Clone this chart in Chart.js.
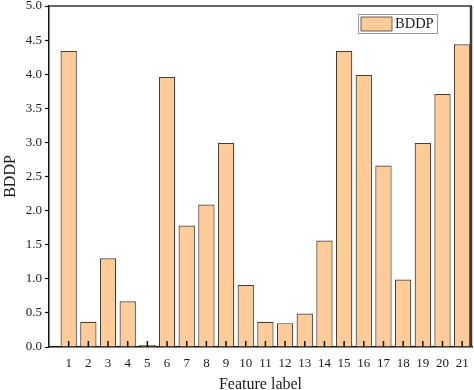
<!DOCTYPE html>
<html>
<head>
<meta charset="utf-8">
<script src="https://cdn.jsdelivr.net/npm/chart.js@4.4.1/dist/chart.umd.min.js"></script>
<style>
html,body{margin:0;padding:0;background:#fff;}
#wrap{width:474px;height:390px;position:relative;}
</style>
</head>
<body>
<div id="wrap"><canvas id="c" width="474" height="390"></canvas></div>
<script>
const categories = [1,2,3,4,5,6,7,8,9,10,11,12,13,14,15,16,17,18,19,20,21];
const bddpValues = [4.34,0.37,1.30,0.67,0.03,3.96,1.78,2.09,2.99,0.91,0.37,0.35,0.49,1.56,4.34,3.99,2.66,0.99,2.99,3.71,4.44];
const seriesName = 'BDDP';
const yTicks = [0,0.5,1.0,1.5,2.0,2.5,3.0,3.5,4.0,4.5,5.0];

const FILL = '#FFCC99';
const EDGE = '#4a3e33';
const TXT = '#1a1a1a';
const SERIF = '"Liberation Serif","DejaVu Serif",serif';

const framePlugin = {
  id: 'frame',
  afterDraw(chart) {
    const {ctx, chartArea: a, scales} = chart;
    ctx.save();
    ctx.strokeStyle = '#333';
    ctx.lineWidth = 1.5;
    ctx.beginPath();
    ctx.moveTo(a.left, a.top);
    ctx.lineTo(a.right, a.top);
    ctx.stroke();
    ctx.lineWidth = 2.5;
    ctx.strokeStyle = '#3a3a3a';
    ctx.beginPath();
    ctx.moveTo(a.right - 1, a.top);
    ctx.lineTo(a.right - 1, a.bottom);
    ctx.stroke();
    ctx.strokeStyle = '#111';
    ctx.lineWidth = 1.5;
    categories.forEach(v => {
      const x = scales.x.getPixelForValue(v);
      ctx.beginPath();
      ctx.moveTo(x, a.bottom);
      ctx.lineTo(x, a.bottom - 6);
      ctx.stroke();
    });
    const lx = 358, ly = 14, lw = 79, lh = 19;
    ctx.fillStyle = '#fff';
    ctx.fillRect(lx, ly, lw, lh);
    ctx.strokeStyle = '#9a9a9a';
    ctx.lineWidth = 1;
    ctx.strokeRect(lx + 0.5, ly + 0.5, lw, lh);
    ctx.fillStyle = FILL;
    ctx.fillRect(361, 17, 31, 14);
    ctx.strokeStyle = EDGE;
    ctx.lineWidth = 0.8;
    ctx.strokeRect(361, 17, 31, 14);
    ctx.fillStyle = TXT;
    ctx.font = '14.5px ' + SERIF;
    ctx.textBaseline = 'middle';
    ctx.textAlign = 'left';
    ctx.fillText(seriesName, 395, 24.5);
    ctx.restore();
  }
};

new Chart(document.getElementById('c'), {
  type: 'bar',
  data: {
    datasets: [{
      label: seriesName,
      data: categories.map((c, i) => ({x: c, y: bddpValues[i]})),
      backgroundColor: FILL,
      borderColor: EDGE,
      borderWidth: 1.2,
      barPercentage: 0.83,
      categoryPercentage: 1.0
    }]
  },
  options: {
    responsive: false,
    animation: false,
    devicePixelRatio: 1,
    layout: {padding: {top: 6, right: 2, left: 0, bottom: 0}},
    plugins: {legend: {display: false}, tooltip: {enabled: false}},
    scales: {
      x: {
        type: 'linear',
        min: 0,
        max: 21.5,
        offset: false,
        afterBuildTicks(s) { s.ticks = categories.map(v => ({value: v})); },
        afterFit(s) { s.height = 43; s.paddingLeft = 0; s.paddingRight = 0; },
        grid: {display: true, drawOnChartArea: false, drawTicks: false},
        border: {color: '#111', width: 1.5},
        ticks: {
          autoSkip: false,
          maxRotation: 0,
          padding: 9,
          color: TXT,
          font: {family: SERIF, size: 13},
          callback: v => String(v)
        },
        title: {display: true, text: 'Feature label', color: TXT, font: {family: SERIF, size: 16}, padding: {top: 0, bottom: -4}}
      },
      y: {
        min: 0,
        max: 5,
        afterBuildTicks(s) { s.ticks = yTicks.map(v => ({value: v})); },
        afterFit(s) { s.width = 49; s.paddingTop = 0; s.paddingBottom = 0; },
        grid: {drawOnChartArea: false, drawTicks: true, tickLength: 4, color: '#111', tickWidth: 1.2},
        border: {color: '#111', width: 1.5},
        ticks: {
          padding: 3,
          color: TXT,
          font: {family: SERIF, size: 13},
          callback: v => Number(v).toFixed(1)
        },
        title: {display: true, text: 'BDDP', color: TXT, font: {family: SERIF, size: 16}, padding: {top: 1, bottom: 0}}
      }
    }
  },
  plugins: [framePlugin]
});
</script>
</body>
</html>
